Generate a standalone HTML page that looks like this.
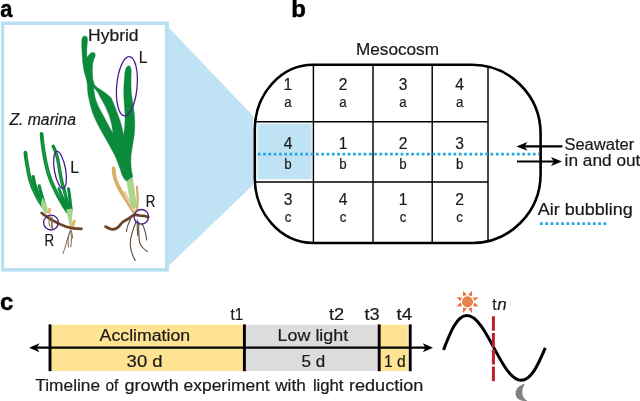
<!DOCTYPE html>
<html>
<head>
<meta charset="utf-8">
<title>Figure</title>
<style>
  html, body { margin: 0; padding: 0; background: #ffffff; }
  body { width: 640px; height: 401px; overflow: hidden; }
  svg { display: block; will-change: transform; }
  text { font-family: "Liberation Sans", sans-serif; fill: #1a1a1a; stroke: #1a1a1a; stroke-width: 0.2px; }
  .lbl { font-weight: bold; font-size: 24px; fill: #000; stroke: #000; stroke-width: 0.45px; }
  .t16 { font-size: 15.6px; }
  .num { font-size: 15.6px; text-anchor: middle; }
  .let { font-size: 14.8px; text-anchor: middle; }
</style>
</head>
<body>
<svg width="640" height="401" viewBox="0 0 640 401">
  <rect x="0" y="0" width="640" height="401" fill="#ffffff"/>

  <!-- ================= PANEL A ================= -->
  <g id="panel-a">
    <!-- zoom trapezoid -->
    <!-- frame -->
    <rect x="1" y="21.5" width="167.9" height="250.1" fill="#b9dff3"/>
    <rect x="4.2" y="25" width="160.7" height="242.9" fill="#ffffff"/>
    <polygon points="167.4,26.2 253.3,116.3 253.3,184.8 167.4,267" fill="#bfe2f4"/>
    <text class="lbl" x="0.2" y="17" textLength="12.2" lengthAdjust="spacingAndGlyphs">a</text>

    <text class="t16" x="88" y="40.6" textLength="50.6" lengthAdjust="spacingAndGlyphs">Hybrid</text>
    <text class="t16" x="9.4" y="125" font-style="italic" textLength="66.5" lengthAdjust="spacingAndGlyphs">Z. marina</text>

    <!-- ===== Hybrid plant ===== -->
    <g id="hybrid">
      <!-- tan old sheaths -->
      <path d="M113.6,168.4 C113.8,172 114.2,175.6 115.2,179 C116.6,183.6 118.6,187.6 121,191.6 C123.4,195.6 126,199.4 128.6,203.4 C130.6,206.6 132.6,209.6 134.6,212.6" fill="none" stroke="#d8ae68" stroke-width="3.8" stroke-linecap="round"/>
      <path d="M124.8,192.6 C127,197.6 130,203 134,209.6" fill="none" stroke="#e8d2a4" stroke-width="2.6" stroke-linecap="round"/>
      <!-- light green sheath -->
      <path d="M126.4,180.4 L132.8,176.2 C133.4,182 134,186 134.6,190 C135.4,196 136.4,202 137,207.6 L131.4,208.4 C130,202 128.8,196 128,190 C127.4,186 126.8,183 126.4,180.4 Z" fill="#a9d58d"/>
      <path d="M136.9,186.6 C137.5,192 137.8,198 137.6,203 C137.4,206 137,209 136.2,211.6" fill="none" stroke="#d8ae68" stroke-width="2.2" stroke-linecap="round"/>
      <!-- dark green leaves -->
      <path id="hy-main" fill="#0c8a3c" stroke="#0c8a3c" stroke-width="0.4" stroke-linejoin="round" fill-rule="evenodd" d="
        M84.8,35.9 C83,35.9 81.9,37.4 81.8,39.8 C81.6,43 81.7,46.5 81.9,50 C82.1,54 82.3,58.4 82.7,62.5
        C83.1,66 83.6,69.4 84.4,72.4 C85.2,75.6 86.2,78.4 86.8,81.2 C87.4,84 87.4,87 87.5,89.9 C87.7,93.4 88.3,96.6 89.2,99.9
        C90.2,105 91.6,110.4 93.4,115 C96.4,122 100,129 103.6,135 C107.4,142 111.4,148.6 114.6,155
        C117.6,161.4 119.8,168 122,175 C123.4,178 125,180 126.4,181
        L132.8,176.6
        C131.4,171 130.4,164 131,156 C131.8,149 133.4,142 134.2,135 C135,128 135,121 134.4,115
        C133.8,108 132.6,101 131.6,95 C130.8,88 131,80 131.2,73 C131.4,69.5 130.8,66.2 129,65.8
        C126.8,65.8 125.6,68.5 125,72 C124.2,79 123.6,87 123.8,95 C124,102 124.8,109 125,115
        C125.2,122 124.6,129 123.6,135.4
        C122.6,128 120.4,121 118,115 C116,109 113.6,103 111.2,98
        C109.4,96 107.4,94.4 105.5,93 C103.6,91.6 101.8,90.6 99.9,89.3 C98.2,88.2 96.4,87 95,85.5
        C94.2,84.4 93.9,83.4 93.7,82.4 C93,80 92.5,77.6 92.5,75 C92.4,72 92.4,69 92.5,66.2
        C92.6,64 93,62 93.7,60 C94.2,58.4 95.2,56.8 95.3,55.2 C95.4,53.6 94.6,52.6 93.6,52.5
        C92.8,52.3 92.2,52.4 91.6,52.6 C90.4,53.2 89.4,54.2 88.6,55.2 C87.9,56 87.3,56.8 86.8,57.5
        C86.8,55 86.8,52.5 86.8,50 C86.9,46.5 87.3,43 87.6,39.8 C87.7,37.6 86.6,35.9 84.8,35.9 Z
        M93.7,87.4 C94,89.6 94.2,91.6 94.4,93.6 C94.8,96 95.2,98 95.8,99.9 C97.4,105 100.2,110 103,115
        C106,121 109.6,127.4 113,133.4 C112.4,127 111,121 109,115 C107,109.6 104.6,104.6 101.8,99.9
        C100.6,97.6 99.4,95.2 98.1,93 C96.8,91 95.4,89 93.7,87.4 Z"/>
      <!-- purple ellipse L -->
      <ellipse cx="126.9" cy="86.2" rx="10.2" ry="29.7" transform="rotate(5 126.9 86.2)" fill="none" stroke="#4a1d8f" stroke-width="1.3"/>
      <text class="t16" x="138.8" y="62.6">L</text>

      <!-- rhizome -->
      <path d="M148,217.4 C146,215.8 143,215.6 140,215.6 C137.6,215.4 135.6,214.6 134,215 C132,215.6 130.4,217.6 128.4,218.8 C126.4,220 124.6,220.6 122.8,222 C120.8,223.6 119.6,226 117.6,227.6 C115.8,229 113.4,229.6 111.2,229.2 C109,228.8 107.2,227.6 105.6,226.6" fill="none" stroke="#6a4424" stroke-width="2.8" stroke-linecap="round" stroke-linejoin="round"/>
      <!-- roots -->
      <g fill="none" stroke="#5e4a36" stroke-width="1.1" stroke-linecap="round">
        <path d="M130.4,219.6 C128.6,223 127,227 126.4,231.4"/>
        <path d="M136,222 C133,229 130.4,237 130.2,244 C130.4,250 132.6,256 135.2,260.4"/>
        <path d="M137.4,220 C137,226 137.4,232 137.8,236"/>
        <path d="M138.8,222 C138.6,230 138.6,238 140,244 C142,248 145,250 147.4,251.6"/>
        <path d="M142,223.6 C144.4,228 146,234 146.6,240"/>
      </g>
      <!-- purple circle R -->
      <circle cx="141.3" cy="216.8" r="7.3" fill="none" stroke="#4a1d8f" stroke-width="1.3"/>
      <text class="t16" x="145.8" y="207" textLength="9.6" lengthAdjust="spacingAndGlyphs">R</text>
    </g>

    <!-- ===== Z. marina plants ===== -->
    <g id="zmarina">
      <!-- shoot A -->
      <g fill="none" stroke="#0c8a3c" stroke-linecap="round" stroke-linejoin="round">
        <path d="M25.4,152.6 C25.8,158 26.6,162 27.4,166.2 C28.2,171 29,176 30.2,180 C31.6,185 33.4,189.6 35.6,193.6 C37.6,198 40,202 42.6,205.6" stroke-width="3.8"/>
        <path d="M33,176.6 C33.6,181 35,186 37,190.8 C38.6,195 40.6,199.6 42.8,203.4" stroke-width="3.4"/>
        <path d="M39.3,185.8 C39.9,189.4 41,193 42.2,196.6 C43,199.4 43.8,202 44.6,204.4" stroke-width="3.1"/>
      </g>
      <path d="M42.4,197.4 C41.4,200.6 41,203.6 41.2,206.4 L44.6,213.4 L48,213 C47.6,209.6 47,206.4 46.4,204 C45,201.6 43.6,199.6 42.4,197.4 Z" fill="#a9d58d"/>
      <path d="M48.4,207.6 L51,208.4 L50.6,213.8 L47.2,213.8 Z" fill="#e3b66a"/>
      <!-- shoot B -->
      <g fill="none" stroke="#0c8a3c" stroke-linecap="round" stroke-linejoin="round">
        <path d="M41.6,134 C42,140 42.8,146 43.8,152.4 C44.8,159 46.2,165.6 47.9,171.7 C49.6,178 52,184 54.8,189.5 C57.2,194.6 60,199.6 63,204.6 C64.4,207 66,209.4 67.4,211.6" stroke-width="3.8"/>
        <path d="M53.2,146.2 C55.2,150 56.6,154 57.5,157.9 C58.6,163 59.4,169 60.3,174.4 C61.2,180 62.6,185.6 64.4,190.9 C65.6,196 67,202 68.6,207.4" stroke-width="3.4"/>
        <path d="M58.8,188.6 C60.4,193 62.6,198 65,202.8 C66,204.8 67,206.8 68,208.4" stroke-width="2.8"/>
        <path d="M68.5,188.8 C69.2,192.6 69.6,196 69.9,199.1 C70.4,203 70.8,207 71.2,210" stroke-width="3.1"/>
      </g>
      <g fill="none" stroke="#4fb06a" stroke-width="0.6" stroke-linecap="round" opacity="0.8">
        <path d="M26.4,158 C27,164 28.4,172 30.2,180 C32.4,188 36,196 40.6,203"/>
        <path d="M42.6,140 C43.4,150 45.2,162 47.9,171.7 C50,180 54,189 59,198"/>
        <path d="M55.6,151 C58,158 59.2,167 60.3,174.4 C61.4,181 63.4,189 65.6,197"/>
      </g>
      <path d="M66.2,209.6 L72.6,208.6 C72.4,214 72,220 71.4,226 L69.6,226 C68.6,220.6 67.4,215 66.2,209.6 Z" fill="#a9d58d"/>
      <path d="M73.4,219.2 L76,220.4 L74,227.6 L70.4,226.8 Z" fill="#e3b66a"/>
      <!-- purple ellipse L -->
      <ellipse cx="60" cy="169.9" rx="5.6" ry="18.7" transform="rotate(-10 60 169.9)" fill="none" stroke="#4a1d8f" stroke-width="1.3"/>
      <text class="t16" x="70.2" y="173.2">L</text>
      <!-- rhizome -->
      <path d="M41.6,213 C45,215.4 48.6,218 52.6,220.4 C57,223 62,225.4 67,227 C71.6,228.4 76.6,228.8 81.4,228.8" fill="none" stroke="#6a4424" stroke-width="2.7" stroke-linecap="round"/>
      <!-- roots -->
      <g fill="none" stroke="#7a6650" stroke-width="1" stroke-linecap="round">
        <path d="M70.4,230 C69,235 66.6,240 65.8,245 C65,248 64,251 63,253.4"/>
        <path d="M71,230 C72,233 72.6,236 72.6,238"/>
        <path d="M70.8,231 C71.6,236 71.6,242 70.8,247"/>
        <path d="M69.6,232 C68,237 67.6,243 68.6,247"/>
        <path d="M50,216 C49,219 48.6,222 49.6,226 M52,217 C52.6,221 52,225 51,228 M50.6,220 C52,223 53,226 52.6,229"/>
      </g>
      <!-- purple circle R -->
      <circle cx="51" cy="222.6" r="7.4" fill="none" stroke="#4a1d8f" stroke-width="1.3"/>
      <text class="t16" x="44.6" y="245.8" textLength="9.6" lengthAdjust="spacingAndGlyphs">R</text>
    </g>
  </g>

  <!-- ================= PANEL B ================= -->
  <g id="panel-b">
    <text class="lbl" x="291.2" y="17">b</text>
    <text class="t16" x="356" y="55" textLength="83" lengthAdjust="spacingAndGlyphs">Mesocosm</text>

    <!-- highlighted cell -->
    <clipPath id="tankclip"><path d="M313.3,66.5 L488,66.5 A50.8,74.2 0 0 1 538.8,140.7 L538.8,167 A50.8,74.2 0 0 1 488,241.2 L313.3,241.2 A56.7,63.2 0 0 1 256.6,178 L256.6,129.7 A56.7,63.2 0 0 1 313.3,66.5 Z"/></clipPath>
    <rect x="257.6" y="123.8" width="54" height="55.4" fill="#bfe2f4" clip-path="url(#tankclip)"/>
    <!-- grid -->
    <g stroke="#000" stroke-width="1.45" fill="none">
      <line x1="313.4" y1="65" x2="313.4" y2="242.4"/>
      <line x1="373" y1="65" x2="373" y2="242.4"/>
      <line x1="432.2" y1="65" x2="432.2" y2="242.4"/>
      <line x1="488" y1="66" x2="488" y2="241.6"/>
      <line x1="255" y1="121.8" x2="488" y2="121.8"/>
      <line x1="255" y1="181.9" x2="488" y2="181.9"/>
    </g>
    <path id="tank" d="M313.3,64.8 L472,64.8 A68.6,69 0 0 1 540.6,133.8 L540.6,174 A68.6,69 0 0 1 472,243 L313.3,243 A58.5,65 0 0 1 254.8,178 L254.8,129.8 A58.5,65 0 0 1 313.3,64.8 Z" fill="none" stroke="#000" stroke-width="2.6"/>

    <!-- dotted line -->
    <line x1="257.8" y1="154.1" x2="539" y2="154.1" stroke="#27a6e0" stroke-width="2.8" stroke-dasharray="2.75 2.54"/>

    <!-- cell labels -->
    <g>
      <text class="num" x="287.8" y="90.2">1</text><text class="let" x="288" y="106.8" textLength="7.4" lengthAdjust="spacingAndGlyphs">a</text>
      <text class="num" x="343" y="90.2">2</text><text class="let" x="343" y="106.8" textLength="7.4" lengthAdjust="spacingAndGlyphs">a</text>
      <text class="num" x="403" y="90.2">3</text><text class="let" x="403" y="106.8" textLength="7.4" lengthAdjust="spacingAndGlyphs">a</text>
      <text class="num" x="459.6" y="90.2">4</text><text class="let" x="459.6" y="106.8" textLength="7.4" lengthAdjust="spacingAndGlyphs">a</text>

      <text class="num" x="288" y="149.4">4</text><text class="let" x="288" y="169.2" textLength="7.4" lengthAdjust="spacingAndGlyphs">b</text>
      <text class="num" x="343" y="149.4">1</text><text class="let" x="343" y="169.2" textLength="7.4" lengthAdjust="spacingAndGlyphs">b</text>
      <text class="num" x="403" y="149.4">2</text><text class="let" x="403" y="169.2" textLength="7.4" lengthAdjust="spacingAndGlyphs">b</text>
      <text class="num" x="459.6" y="149.4">3</text><text class="let" x="459.6" y="169.2" textLength="7.4" lengthAdjust="spacingAndGlyphs">b</text>

      <text class="num" x="288" y="204.8">3</text><text class="let" x="288" y="222" textLength="6.7" lengthAdjust="spacingAndGlyphs">c</text>
      <text class="num" x="343" y="204.8">4</text><text class="let" x="343" y="222" textLength="6.7" lengthAdjust="spacingAndGlyphs">c</text>
      <text class="num" x="403" y="204.8">1</text><text class="let" x="403" y="222" textLength="6.7" lengthAdjust="spacingAndGlyphs">c</text>
      <text class="num" x="459.6" y="204.8">2</text><text class="let" x="459.6" y="222" textLength="6.7" lengthAdjust="spacingAndGlyphs">c</text>
    </g>

    <!-- arrows -->
    <g stroke="#000" stroke-width="2.1" fill="#000">
      <line x1="562.4" y1="146.4" x2="522" y2="146.4"/>
      <polygon points="516.4,146.4 527.4,142 524.6,146.4 527.4,150.8" stroke="none"/>
      <line x1="517" y1="161.5" x2="556" y2="161.5"/>
      <polygon points="562,161.5 551,157.1 553.8,161.5 551,165.9" stroke="none"/>
    </g>
    <text class="t16" x="564.4" y="149.6" textLength="69.8" lengthAdjust="spacingAndGlyphs">Seawater</text>
    <text class="t16" x="564.6" y="165.6" textLength="75.8" lengthAdjust="spacingAndGlyphs">in and out</text>
    <text class="t16" x="537.8" y="215" textLength="95" lengthAdjust="spacingAndGlyphs">Air bubbling</text>
    <line x1="540" y1="223.6" x2="606.4" y2="223.6" stroke="#27a6e0" stroke-width="2.8" stroke-dasharray="2.75 2.54"/>
  </g>

  <!-- ================= PANEL C ================= -->
  <g id="panel-c">
    <text class="lbl" x="0" y="309.8">c</text>
    <!-- bars -->
    <rect x="50" y="324.7" width="194.4" height="46.3" fill="#fde392"/>
    <rect x="244.4" y="324.7" width="134.8" height="46.3" fill="#dcdcdc"/>
    <rect x="379.2" y="324.7" width="28.6" height="46.3" fill="#fde392"/>
    <!-- axis -->
    <line x1="35" y1="347.7" x2="427" y2="347.7" stroke="#000" stroke-width="2.2"/>
    <polygon points="29.2,347.7 39.4,343.2 36.8,347.7 39.4,352.2" fill="#000"/>
    <polygon points="433,347.7 422.8,343.2 425.4,347.7 422.8,352.2" fill="#000"/>
    <!-- ticks -->
    <g stroke="#000" stroke-width="2.9">
      <line x1="50" y1="324.4" x2="50" y2="371.2"/>
      <line x1="244.4" y1="324.4" x2="244.4" y2="371.2"/>
      <line x1="379.2" y1="324.4" x2="379.2" y2="371.2"/>
      <line x1="410.2" y1="324.4" x2="410.2" y2="371.2"/>
    </g>
    <text class="t16" x="230.6" y="319.6" textLength="12.6" lengthAdjust="spacingAndGlyphs">t1</text>
    <text class="t16" x="329" y="319.6" textLength="15.2" lengthAdjust="spacingAndGlyphs">t2</text>
    <text class="t16" x="364.4" y="319.6" textLength="15.2" lengthAdjust="spacingAndGlyphs">t3</text>
    <text class="t16" x="396.6" y="319.6" textLength="15.6" lengthAdjust="spacingAndGlyphs">t4</text>

    <text class="t16" x="99.6" y="341" textLength="90.6" lengthAdjust="spacingAndGlyphs">Acclimation</text>
    <text class="t16" x="126.6" y="367.2" textLength="36" lengthAdjust="spacingAndGlyphs">30 d</text>
    <text class="t16" x="277.6" y="341" textLength="70.6" lengthAdjust="spacingAndGlyphs">Low light</text>
    <text class="t16" x="301.6" y="367.2" textLength="23.6" lengthAdjust="spacingAndGlyphs">5 d</text>
    <text class="t16" x="384" y="367.2" textLength="21.6" lengthAdjust="spacingAndGlyphs">1 d</text>
    <text class="t16" y="390.6"><tspan x="35.3" textLength="64.8" lengthAdjust="spacingAndGlyphs">Timeline</tspan> <tspan x="105.5" textLength="12.9" lengthAdjust="spacingAndGlyphs">of</tspan> <tspan x="124.5" textLength="54.3" lengthAdjust="spacingAndGlyphs">growth</tspan> <tspan x="183.6" textLength="86.1" lengthAdjust="spacingAndGlyphs">experiment</tspan> <tspan x="275.2" textLength="30.6" lengthAdjust="spacingAndGlyphs">with</tspan> <tspan x="312.9" textLength="30.6" lengthAdjust="spacingAndGlyphs">light</tspan> <tspan x="349.0" textLength="74.3" lengthAdjust="spacingAndGlyphs">reduction</tspan></text>

    <!-- sine -->
    <path d="M443.5,350 C449,336 456,315.6 466.8,315.6 C486.6,315.6 501.3,380.2 521.1,380.2 C531,380.2 537.6,366 545.3,347.9" fill="none" stroke="#000" stroke-width="3"/>
    <line x1="493.4" y1="316.2" x2="493.4" y2="381.4" stroke="#be1e2d" stroke-width="3" stroke-dasharray="14.6 2.2"/>
    <text class="t16" x="492.2" y="310.4">t<tspan x="497.3" font-style="italic" textLength="9.4" lengthAdjust="spacingAndGlyphs">n</tspan></text>
    <!-- sun -->
    <g fill="#e6733a">
      <circle cx="467.5" cy="301.8" r="5.1" fill="#e9824c" stroke="#dd6c33" stroke-width="0.7"/>
      <polygon points="472.1,290.7 471.9,296.4 468.2,294.8"/>
      <polygon points="478.6,297.2 474.5,301.1 472.9,297.4"/>
      <polygon points="478.6,306.4 472.9,306.2 474.5,302.5"/>
      <polygon points="472.1,312.9 468.2,308.8 471.9,307.2"/>
      <polygon points="462.9,312.9 463.1,307.2 466.8,308.8"/>
      <polygon points="456.4,306.4 460.5,302.5 462.1,306.2"/>
      <polygon points="456.4,297.2 462.1,297.4 460.5,301.1"/>
      <polygon points="462.9,290.7 466.8,294.8 463.1,296.4"/>
    </g>
    <!-- moon -->
    <path d="M525,383.8 C517.4,385.4 513.8,391.6 516.4,397 C518.6,400.6 523,401.4 527.4,400.8 C521.6,397.8 520.6,390 525,383.8 Z" fill="#828282"/>
  </g>
</svg>
</body>
</html>
